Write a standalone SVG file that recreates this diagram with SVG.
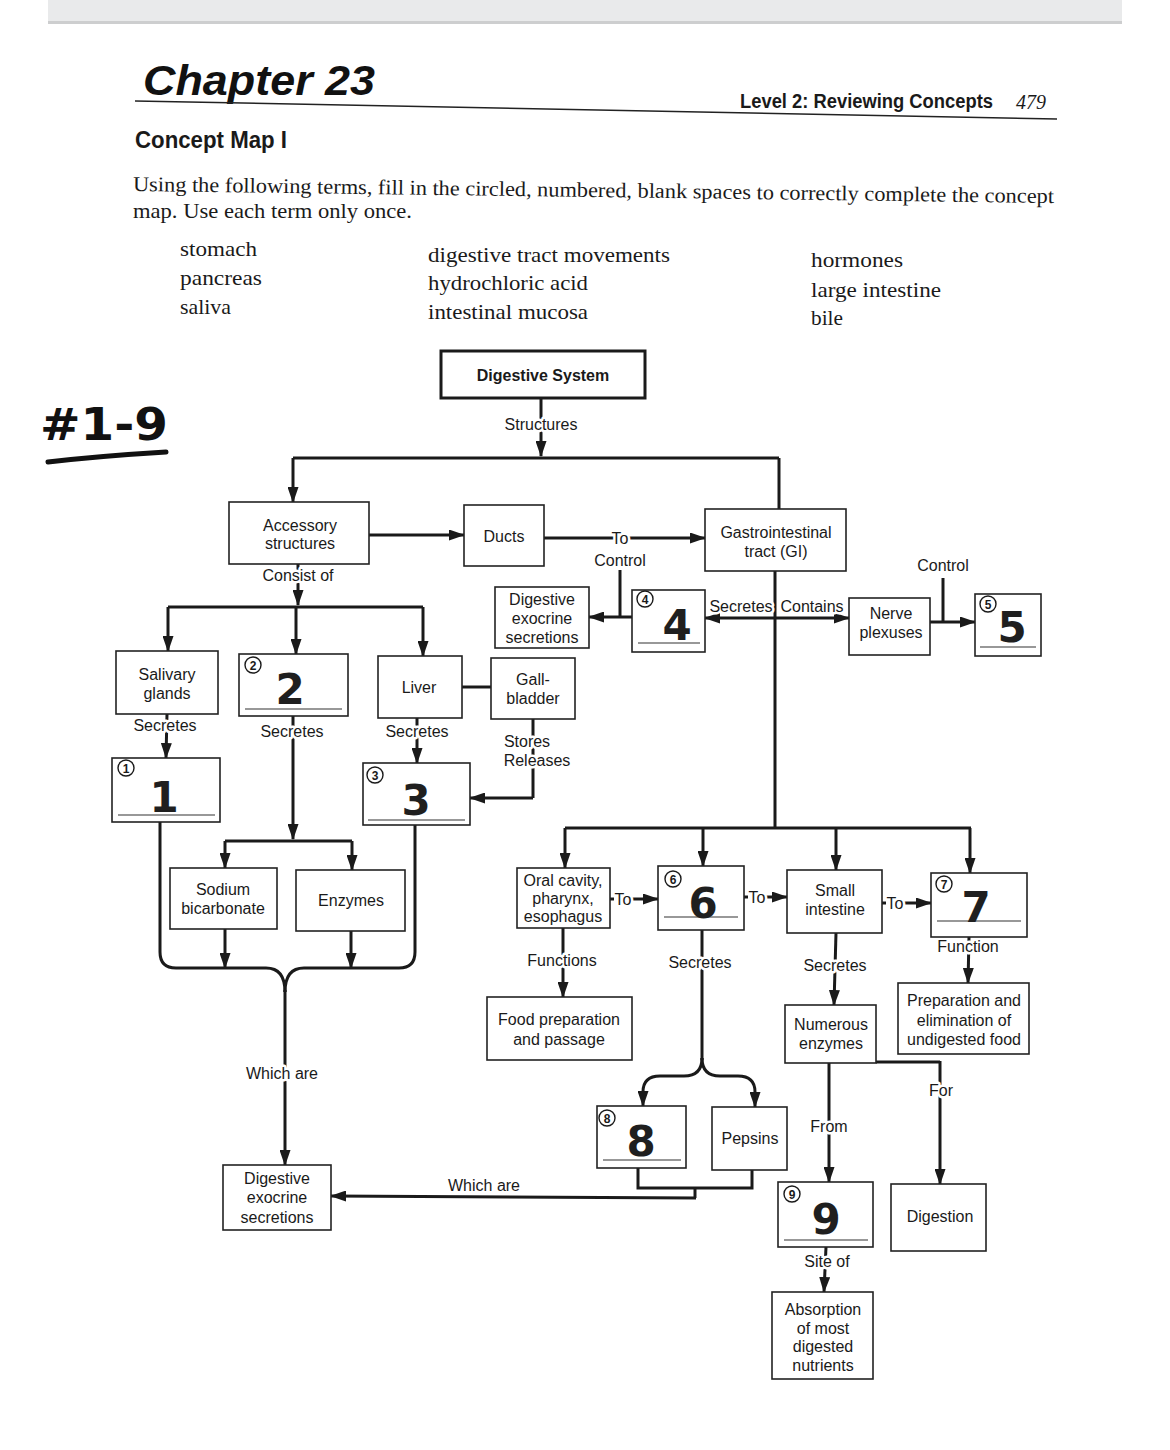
<svg xmlns="http://www.w3.org/2000/svg" width="1170" height="1450" viewBox="0 0 1170 1450">
<style>
.box{fill:#fff;stroke:#222;stroke-width:1.6}
.t{font-family:"Liberation Sans",Arial,sans-serif;font-size:16px;fill:#1a1a1a;text-anchor:middle}
.lbl{font-family:"Liberation Sans",Arial,sans-serif;font-size:16px;fill:#1a1a1a;text-anchor:middle;paint-order:stroke;stroke:#fff;stroke-width:5px;stroke-linejoin:round}
.c{fill:none;stroke:#1a1a1a;stroke-width:3}
.a{fill:none;stroke:#1a1a1a;stroke-width:3;marker-end:url(#ah)}
.hw{font-family:"DejaVu Sans",sans-serif;font-weight:bold;font-size:42px;fill:#1f1f1f;text-anchor:middle}
.num{font-family:"Liberation Sans",Arial,sans-serif;font-size:12px;font-weight:bold;fill:#1a1a1a;text-anchor:middle}
.cir{fill:#fff;stroke:#1a1a1a;stroke-width:1.4}
.ul{stroke:#333;stroke-width:1.2}
.serif{font-family:"Liberation Serif","Times New Roman",serif;font-size:21px;fill:#1a1a1a}
.term{font-family:"Liberation Serif","Times New Roman",serif;font-size:22px;fill:#1a1a1a}
</style>
<defs>
<marker id="ah" viewBox="0 0 16 11" refX="15" refY="5.5" markerWidth="16" markerHeight="11" markerUnits="userSpaceOnUse" orient="auto"><path d="M0,0 L16,5.5 L0,11 z" fill="#1a1a1a"/></marker>
<marker id="ahs" viewBox="0 0 16 11" refX="1" refY="5.5" markerWidth="16" markerHeight="11" markerUnits="userSpaceOnUse" orient="auto"><path d="M16,0 L0,5.5 L16,11 z" fill="#1a1a1a"/></marker>
</defs>
<rect width="1170" height="1450" fill="#fff"/>
<rect x="48" y="0" width="1074" height="21" fill="#e9eaeb"/>
<line x1="48" y1="22.5" x2="1122" y2="22.5" stroke="#cdcecf" stroke-width="3"/>

<g id="header">
<text x="143" y="95" font-family="'Liberation Sans',sans-serif" font-style="italic" font-weight="bold" font-size="42" fill="#111" textLength="232" lengthAdjust="spacingAndGlyphs">Chapter 23</text>
<line x1="135" y1="101" x2="1057" y2="119" stroke="#222" stroke-width="1.5"/>
<text x="740" y="108" font-family="'Liberation Sans',sans-serif" font-weight="bold" font-size="20" fill="#1a1a1a" textLength="253" lengthAdjust="spacingAndGlyphs">Level 2: Reviewing Concepts</text>
<text x="1016" y="109" font-family="'Liberation Serif',serif" font-style="italic" font-size="20" fill="#1a1a1a">479</text>
<text x="135" y="148" font-family="'Liberation Sans',sans-serif" font-weight="bold" font-size="23" fill="#1a1a1a" textLength="152" lengthAdjust="spacingAndGlyphs">Concept Map I</text>
<text x="133" y="191" class="serif" textLength="921" lengthAdjust="spacingAndGlyphs" transform="rotate(0.75 133 191)">Using the following terms, fill in the circled, numbered, blank spaces to correctly complete the concept</text>
<text x="133" y="218" class="serif" textLength="279" lengthAdjust="spacingAndGlyphs">map. Use each term only once.</text>
<text x="180" y="256" class="term" textLength="77" lengthAdjust="spacingAndGlyphs">stomach</text>
<text x="180" y="285" class="term" textLength="82" lengthAdjust="spacingAndGlyphs">pancreas</text>
<text x="180" y="314" class="term" textLength="51" lengthAdjust="spacingAndGlyphs">saliva</text>
<text x="428" y="262" class="term" textLength="242" lengthAdjust="spacingAndGlyphs">digestive tract movements</text>
<text x="428" y="290" class="term" textLength="160" lengthAdjust="spacingAndGlyphs">hydrochloric acid</text>
<text x="428" y="319" class="term" textLength="160" lengthAdjust="spacingAndGlyphs">intestinal mucosa</text>
<text x="811" y="267" class="term" textLength="92" lengthAdjust="spacingAndGlyphs">hormones</text>
<text x="811" y="297" class="term" textLength="130" lengthAdjust="spacingAndGlyphs">large intestine</text>
<text x="811" y="325" class="term" textLength="32" lengthAdjust="spacingAndGlyphs">bile</text>
<text x="40" y="440" font-family="'DejaVu Sans',sans-serif" font-weight="bold" font-size="44" fill="#111" textLength="128" lengthAdjust="spacingAndGlyphs">#1-9</text>
<path d="M48,462 Q100,456 166,452" fill="none" stroke="#111" stroke-width="5" stroke-linecap="round"/>
</g>

<g id="connectors">
<path class="a" d="M541,398 L541,456"/>
<path class="c" d="M293,458 L779,458"/>
<path class="a" d="M293,458 L293,502"/>
<path class="c" d="M779,458 L779,509"/>
<path class="a" d="M369,535 L464,535"/>
<path class="a" d="M544,538 L705,538"/>
<path class="c" d="M620,570 L620,617"/>
<path class="a" d="M632,617 L589,617"/>
<path class="c" d="M775,571 L775,828"/>
<path class="c" d="M705,618 L849,618" marker-start="url(#ahs)" marker-end="url(#ah)"/>
<path class="c" d="M943,578 L943,622"/>
<path class="a" d="M930,622 L975,622"/>
<path class="a" d="M298,564 L298,605"/>
<path class="c" d="M168,607 L423,607"/>
<path class="a" d="M168,607 L168,651"/>
<path class="a" d="M296,607 L296,654"/>
<path class="a" d="M423,607 L423,656"/>
<path class="c" d="M462,687 L491,687"/>
<path class="a" d="M167,714 L166,758"/>
<path class="a" d="M293,716 L293,839"/>
<path class="c" d="M225,841 L352,841"/>
<path class="a" d="M225,841 L225,868"/>
<path class="a" d="M352,841 L352,870"/>
<path class="a" d="M417,718 L417,763"/>
<path class="c" d="M533,719 L533,798"/>
<path class="a" d="M533,798 L470,798"/>
<path class="a" d="M225,929 L225,968"/>
<path class="a" d="M351,931 L351,968"/>
<path class="c" d="M160,822 L160,952 Q160,968 176,968 L266,968 Q285,968 285,992"/>
<path class="c" d="M415,825 L415,952 Q415,968 399,968 L304,968 Q285,968 285,992"/>
<path class="a" d="M285,990 L285,1165"/>
<path class="c" d="M565,828 L971,828"/>
<path class="a" d="M565,828 L565,868"/>
<path class="a" d="M703,828 L703,866"/>
<path class="a" d="M836,828 L836,870"/>
<path class="a" d="M970,828 L970,873"/>
<path class="c" d="M610,899 L614,899"/><path class="a" d="M632,899 L658,899"/>
<path class="c" d="M744,897 L748,897"/><path class="a" d="M766,897 L787,897"/>
<path class="c" d="M882,903 L886,903"/><path class="a" d="M904,903 L931,903"/>
<path class="a" d="M563,928 L563,997"/>
<path class="c" d="M702,930 L702,1060"/>
<path class="a" d="M702,1058 Q702,1076 684,1076 L660,1076 Q643,1076 643,1092 L643,1106"/>
<path class="a" d="M702,1058 Q702,1076 720,1076 L738,1076 Q755,1076 755,1092 L755,1107"/>
<path class="c" d="M638,1168 L638,1188 L752,1188 L752,1170"/>
<path class="c" d="M695,1188 L695,1198"/>
<path class="a" d="M696,1198 L331,1196"/>
<path class="a" d="M836,933 L834,1005"/>
<path class="a" d="M969,937 L968,983"/>
<path class="a" d="M829,1063 L829,1182"/>
<path class="c" d="M876,1062 L940,1062"/>
<path class="a" d="M940,1061 L940,1184"/>
<path class="a" d="M826,1247 L824,1292"/>
</g>

<g id="labels">
<text class="lbl" x="541" y="430">Structures</text>
<text class="lbl" x="620" y="544">To</text>
<text class="lbl" x="620" y="566">Control</text>
<text class="lbl" x="741" y="612">Secretes</text>
<text class="lbl" x="812" y="612">Contains</text>
<text class="lbl" x="943" y="571">Control</text>
<text class="lbl" x="298" y="581">Consist of</text>
<text class="lbl" x="165" y="731">Secretes</text>
<text class="lbl" x="292" y="737">Secretes</text>
<text class="lbl" x="417" y="737">Secretes</text>
<text class="lbl" x="527" y="747">Stores</text>
<text class="lbl" x="537" y="766">Releases</text>
<text class="lbl" x="282" y="1079">Which are</text>
<text class="lbl" x="484" y="1191">Which are</text>
<text class="lbl" x="623" y="905">To</text>
<text class="lbl" x="757" y="903">To</text>
<text class="lbl" x="895" y="909">To</text>
<text class="lbl" x="562" y="966">Functions</text>
<text class="lbl" x="700" y="968">Secretes</text>
<text class="lbl" x="835" y="971">Secretes</text>
<text class="lbl" x="968" y="952">Function</text>
<text class="lbl" x="829" y="1132">From</text>
<text class="lbl" x="941" y="1096">For</text>
<text class="lbl" x="827" y="1267">Site of</text>
</g>

<g id="digestive-system">
<rect x="441" y="351" width="204" height="47" fill="#fff" stroke="#1a1a1a" stroke-width="3"/>
<text class="t" x="543" y="381" font-weight="bold" font-size="19">Digestive System</text>
</g>
<g id="accessory"><rect class="box" x="229" y="502" width="140" height="62"/><text class="t" x="300" y="531">Accessory</text><text class="t" x="300" y="549">structures</text></g>
<g id="ducts"><rect class="box" x="464" y="505" width="80" height="61"/><text class="t" x="504" y="542">Ducts</text></g>
<g id="gi"><rect class="box" x="705" y="509" width="141" height="62"/><text class="t" x="776" y="538">Gastrointestinal</text><text class="t" x="776" y="557">tract (GI)</text></g>
<g id="exocrine-upper"><rect class="box" x="495" y="587" width="94" height="61"/><text class="t" x="542" y="605">Digestive</text><text class="t" x="542" y="624">exocrine</text><text class="t" x="542" y="643">secretions</text></g>
<g id="blank4"><rect class="box" x="632" y="590" width="73" height="62"/><circle class="cir" cx="645" cy="599" r="8"/><text class="num" x="645" y="603.5">4</text><line class="ul" x1="638" y1="643" x2="700" y2="643"/><text class="hw" x="677" y="640">4</text></g>
<g id="nerve"><rect class="box" x="849" y="598" width="81" height="57"/><text class="t" x="891" y="619">Nerve</text><text class="t" x="891" y="638">plexuses</text></g>
<g id="blank5"><rect class="box" x="975" y="594" width="66" height="62"/><circle class="cir" cx="988" cy="604" r="8"/><text class="num" x="988" y="608.5">5</text><line class="ul" x1="980" y1="647" x2="1036" y2="647"/><text class="hw" x="1012" y="642">5</text></g>
<g id="salivary"><rect class="box" x="116" y="651" width="102" height="63"/><text class="t" x="167" y="680">Salivary</text><text class="t" x="167" y="699">glands</text></g>
<g id="blank2"><rect class="box" x="239" y="654" width="109" height="62"/><circle class="cir" cx="253" cy="665" r="8"/><text class="num" x="253" y="669.5">2</text><line class="ul" x1="245" y1="709" x2="342" y2="709"/><text class="hw" x="290" y="704">2</text></g>
<g id="liver"><rect class="box" x="378" y="656" width="84" height="62"/><text class="t" x="419" y="693">Liver</text></g>
<g id="gallbladder"><rect class="box" x="491" y="658" width="84" height="61"/><text class="t" x="533" y="685">Gall-</text><text class="t" x="533" y="704">bladder</text></g>
<g id="blank1"><rect class="box" x="112" y="758" width="108" height="64"/><circle class="cir" cx="126" cy="768" r="8"/><text class="num" x="126" y="772.5">1</text><line class="ul" x1="118" y1="815" x2="215" y2="815"/><text class="hw" x="164" y="812">1</text></g>
<g id="blank3"><rect class="box" x="363" y="763" width="107" height="62"/><circle class="cir" cx="375" cy="775" r="8"/><text class="num" x="375" y="779.5">3</text><line class="ul" x1="368" y1="820" x2="465" y2="820"/><text class="hw" x="416" y="815">3</text></g>
<g id="sodium"><rect class="box" x="170" y="868" width="107" height="61"/><text class="t" x="223" y="895">Sodium</text><text class="t" x="223" y="914">bicarbonate</text></g>
<g id="enzymes"><rect class="box" x="296" y="870" width="109" height="61"/><text class="t" x="351" y="906">Enzymes</text></g>
<g id="exocrine-lower"><rect class="box" x="223" y="1165" width="108" height="65"/><text class="t" x="277" y="1184">Digestive</text><text class="t" x="277" y="1203">exocrine</text><text class="t" x="277" y="1223">secretions</text></g>
<g id="oral"><rect class="box" x="517" y="868" width="93" height="60"/><text class="t" x="563" y="886">Oral cavity,</text><text class="t" x="563" y="904">pharynx,</text><text class="t" x="563" y="922">esophagus</text></g>
<g id="blank6"><rect class="box" x="658" y="866" width="86" height="64"/><circle class="cir" cx="673" cy="879" r="8"/><text class="num" x="673" y="883.5">6</text><line class="ul" x1="664" y1="917" x2="738" y2="917"/><text class="hw" x="703" y="918">6</text></g>
<g id="small-intestine"><rect class="box" x="787" y="870" width="95" height="63"/><text class="t" x="835" y="896">Small</text><text class="t" x="835" y="915">intestine</text></g>
<g id="blank7"><rect class="box" x="931" y="873" width="96" height="64"/><circle class="cir" cx="944" cy="884" r="8"/><text class="num" x="944" y="888.5">7</text><line class="ul" x1="937" y1="921" x2="1021" y2="921"/><text class="hw" x="976" y="922">7</text></g>
<g id="food"><rect class="box" x="487" y="997" width="145" height="63"/><text class="t" x="559" y="1025">Food preparation</text><text class="t" x="559" y="1045">and passage</text></g>
<g id="numerous"><rect class="box" x="785" y="1005" width="91" height="58"/><text class="t" x="831" y="1030">Numerous</text><text class="t" x="831" y="1049">enzymes</text></g>
<g id="preparation"><rect class="box" x="898" y="983" width="131" height="71"/><text class="t" x="964" y="1006">Preparation and</text><text class="t" x="964" y="1026">elimination of</text><text class="t" x="964" y="1045">undigested food</text></g>
<g id="blank8"><rect class="box" x="597" y="1106" width="89" height="62"/><circle class="cir" cx="607" cy="1118" r="8"/><text class="num" x="607" y="1122.5">8</text><line class="ul" x1="603" y1="1160" x2="681" y2="1160"/><text class="hw" x="641" y="1156">8</text></g>
<g id="pepsins"><rect class="box" x="712" y="1107" width="75" height="63"/><text class="t" x="750" y="1144">Pepsins</text></g>
<g id="blank9"><rect class="box" x="778" y="1182" width="95" height="65"/><circle class="cir" cx="792" cy="1194" r="8"/><text class="num" x="792" y="1198.5">9</text><line class="ul" x1="784" y1="1240" x2="868" y2="1240"/><text class="hw" x="826" y="1234">9</text></g>
<g id="digestion"><rect class="box" x="891" y="1184" width="95" height="67"/><text class="t" x="940" y="1222">Digestion</text></g>
<g id="absorption"><rect class="box" x="772" y="1292" width="101" height="87"/><text class="t" x="823" y="1315">Absorption</text><text class="t" x="823" y="1334">of most</text><text class="t" x="823" y="1352">digested</text><text class="t" x="823" y="1371">nutrients</text></g>
</svg>
